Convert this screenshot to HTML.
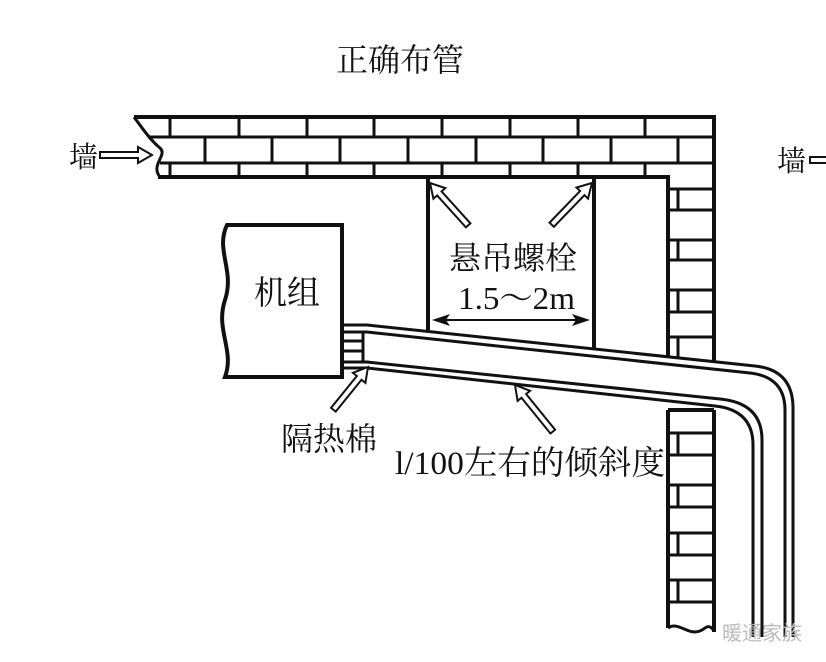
<!DOCTYPE html>
<html><head><meta charset="utf-8"><style>
body{margin:0;background:#fff;}
svg{display:block}
.s{font-family:"Liberation Serif","Noto Serif CJK SC",serif;fill:#111}
</style></head><body>
<svg width="826" height="662" viewBox="0 0 826 662" xmlns="http://www.w3.org/2000/svg">
<rect width="826" height="662" fill="#fff"/>
<text class="s" x="400" y="71" font-size="32" text-anchor="middle">正确布管</text>
<g stroke="#111" fill="none" stroke-width="3">
<path d="M134,117 L714,117 L714,362" stroke-width="4"/>
<path d="M134,117 C140,125 150,140 160,148 C168,155 150,165 160,177" stroke-width="3"/>
<path d="M158,177 L668,177 L668,357" stroke-width="4"/>
<line x1="148" y1="137" x2="714" y2="137"/>
<line x1="160" y1="163" x2="714" y2="163"/>
<g stroke-width="3">
<path d="M170,117V137 M239,117V137 M307,117V137 M374,117V137 M442,117V137 M510,117V137 M578,117V137 M645,117V137"/>
<path d="M170,163V177 M239,163V177 M307,163V177 M374,163V177 M442,163V177 M510,163V177 M578,163V177 M645,163V177"/>
<path d="M205,137V163 M272,137V163 M340,137V163 M408,137V163 M476,137V163 M543,137V163 M611,137V163 M678,137V163"/>
<path d="M668,189H714 M668,210H714 M668,240H714 M668,260H714 M668,290H714 M668,312H714 M668,337H714"/>
<path d="M678,189V210 M678,240V260 M678,290V312 M678,337V357"/>
</g>
<path d="M428,177 V330 M594,177 V348" stroke-width="4"/>
<path d="M668,410 H714 M668,410 V628 M714,410 V632" stroke-width="4"/>
<path d="M668,628 C680,620 690,640 705,628 C710,624 714,630 714,632" stroke-width="3"/>
<path d="M668,433H714 M668,455H714 M668,485H714 M668,507H714 M668,533H714 M668,555H714 M668,580H714 M668,602H714"/>
<path d="M678,433V455 M678,485V507 M678,533V555 M678,580V602"/>
<path d="M342,225 L227,225 C215,250 235,270 225,300 C215,330 235,350 225,377 L342,377 Z" stroke-width="4" fill="#fff"/>
<path d="M342,332 V362 M363,332 V362 M342,341 H363 M342,351 H363"/>
<path d="M342,325 L367,325 L755,366 Q793,370 793,408 L793,637"/>
<path d="M342,332 L367,332 L750,373 Q785,377 785,410 L785,637"/>
<path d="M342,362 L367,362 L720,399 Q762,403 762,440 L762,637"/>
<path d="M342,368 L367,368 L715,406 Q753,410 753,445 L753,637"/>
<line x1="436" y1="320" x2="586" y2="320" stroke-width="2"/>
</g>
<path d="M432,320 L450,314 L446,320 L450,326Z M590,320 L572,314 L576,320 L572,326Z" fill="#111"/>
<g fill="#fff" stroke="#111" stroke-width="2">
<polygon points="0,0 -14,-8 -14,-3 -52,-3 -52,3 -14,3 -14,8" transform="translate(152,155)"/>
<polygon points="0,0 -14,-8 -14,-3 -57,-3 -57,3 -14,3 -14,8" transform="translate(430,183) rotate(-132)"/>
<polygon points="0,0 -14,-8 -14,-3 -58,-3 -58,3 -14,3 -14,8" transform="translate(592,183) rotate(-46)"/>
<polygon points="0,0 -14,-8 -14,-3 -55,-3 -55,3 -14,3 -14,8" transform="translate(368,367) rotate(-51)"/>
<polygon points="0,0 -14,-8 -14,-3 -60,-3 -60,3 -14,3 -14,8" transform="translate(515,385) rotate(-129)"/>
<polygon points="0,0 -10,-7 -10,-3 -30,-3 -30,3 -10,3 -10,7" transform="translate(840,160)"/>
</g>
<text class="s" x="69" y="167" font-size="29">墙</text>
<text class="s" x="777" y="171" font-size="29">墙</text>
<text class="s" x="254" y="304" font-size="33">机组</text>
<text class="s" x="449" y="269" font-size="32">悬吊螺栓</text>
<text class="s" x="458" y="309" font-size="32" textLength="117" lengthAdjust="spacingAndGlyphs">1.5～2m</text>
<text class="s" x="281" y="450" font-size="32">隔热棉</text>
<text class="s" x="395" y="474" font-size="33" textLength="270" lengthAdjust="spacingAndGlyphs">l/100左右的倾斜度</text>
<text x="722" y="640" font-size="20" fill="#bbb" font-family="'Liberation Sans','Noto Sans CJK SC',sans-serif">暖通家族</text>
</svg>
</body></html>
